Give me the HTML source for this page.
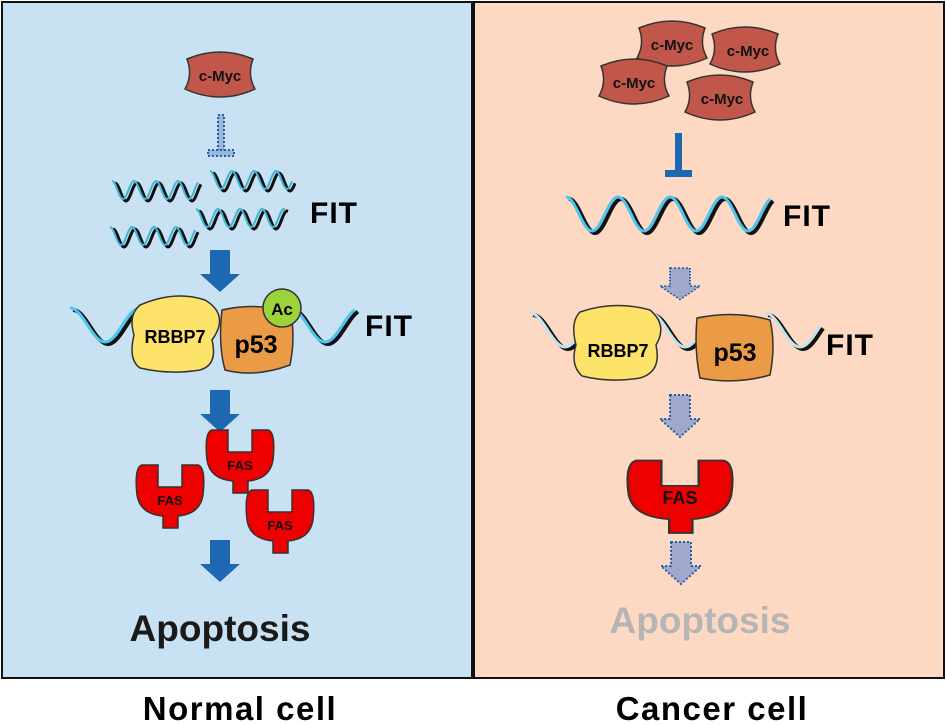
<!DOCTYPE html>
<html><head><meta charset="utf-8"><style>
html,body{margin:0;padding:0;background:#fff;}
svg{display:block;}
text{font-family:"Liberation Sans",sans-serif;font-weight:bold;}
</style></head><body>
<svg id="s" width="946" height="725" viewBox="0 0 946 725" xmlns="http://www.w3.org/2000/svg">
<defs>
<path id="myc" d="M-33,-16 Q0,-30 33,-16 Q27,0 35,14 Q0,30 -35,14 Q-27,0 -33,-16Z"/>
<path id="fas" d="M-28,-30 L-12,-30 L-12,-8 L12,-8 L12,-30 L28,-30 Q36,-28 33,0 Q30,19 8,21 L8,33 L-7,33 L-7,21 Q-30,19 -33,0 Q-36,-28 -28,-30Z"/>
<path id="arr" d="M-10,0 L10,0 L10,24 L20,24 L0,42 L-20,24 L-10,24Z"/>
</defs>
<rect x="2" y="2" width="470" height="676" fill="#c9e2f3" stroke="#111" stroke-width="2"/>
<rect x="474" y="2" width="470" height="676" fill="#fdd9c3" stroke="#111" stroke-width="2"/>
<g id="helix"></g>
<g fill="#c0574a" stroke="#333" stroke-width="1.5">
<use href="#myc" x="220" y="75"/>
<use href="#myc" x="672" y="44"/>
<use href="#myc" x="745" y="50"/>
<use href="#myc" x="634" y="82"/>
<use href="#myc" x="720" y="98"/>
</g>
<g font-size="15" text-anchor="middle" fill="#111">
<text x="220" y="81">c-Myc</text>
<text x="672" y="50">c-Myc</text>
<text x="748" y="56">c-Myc</text>
<text x="634" y="88">c-Myc</text>
<text x="722" y="104">c-Myc</text>
</g>
<g stroke="#1f5fa8" stroke-width="2" stroke-dasharray="2,2" fill="#9ab8dc">
<rect x="218" y="115" width="6" height="36"/><rect x="208" y="150" width="26" height="6"/>
</g>
<g fill="#1e67b3"><rect x="675" y="133" width="7" height="38"/><rect x="665" y="170" width="27" height="7"/></g>
<g fill="#1e67b3"><use href="#arr" x="220" y="250"/><use href="#arr" x="220" y="390"/><use href="#arr" x="220" y="540"/></g>
<g fill="#a0a8cc" stroke="#1f5fa8" stroke-width="2" stroke-dasharray="2,2">
<use href="#arr" transform="translate(680,268) scale(1,0.75)"/>
<use href="#arr" x="680" y="395"/><use href="#arr" x="681" y="542"/></g>
<g font-size="30" fill="#000" letter-spacing="1"><text x="310" y="223">FIT</text><text x="365" y="336">FIT</text><text x="783" y="226">FIT</text><text x="826" y="355">FIT</text></g>
<g stroke="#333" stroke-width="1.5">
<path d="M140,305 Q175,290 205,300 Q230,315 212,340 Q218,365 200,370 Q170,375 140,368 Q128,360 134,335 Q128,315 140,305Z" fill="#fde36a"/>
<path d="M222,310 Q255,302 290,312 Q296,335 290,365 Q255,378 225,370 Q218,345 222,310Z" fill="#eb9a45"/>
<circle cx="282" cy="308" r="19" fill="#9cd33a"/>
<path d="M580,312 Q615,300 650,310 Q668,325 656,345 Q662,372 640,378 Q610,383 582,376 Q570,365 576,345 Q570,322 580,312Z" fill="#fde36a"/>
<path d="M697,318 Q735,310 770,320 Q776,345 770,375 Q735,385 700,378 Q694,350 697,318Z" fill="#eb9a45"/>
</g>
<g font-size="18" fill="#000" text-anchor="middle">
<text x="175" y="343">RBBP7</text><text x="618" y="357">RBBP7</text>
<text x="282" y="315" font-size="17">Ac</text>
</g>
<g font-size="25" fill="#000" text-anchor="middle"><text x="256" y="353">p53</text><text x="735" y="361">p53</text></g>
<g fill="#ee0000" stroke="#333" stroke-width="1.5">
<use href="#fas" x="170" y="495"/><use href="#fas" x="240" y="460"/><use href="#fas" x="280" y="520"/>
<use href="#fas" transform="translate(680,495) scale(1.55,1.15)"/>
</g>
<g font-size="13" fill="#111" text-anchor="middle">
<text x="170" y="505">FAS</text><text x="240" y="470">FAS</text><text x="280" y="530">FAS</text>
<text x="680" y="504" font-size="18">FAS</text></g>
<text x="220" y="641" font-size="37" text-anchor="middle" fill="#1a1a1a">Apoptosis</text>
<text x="700" y="633" font-size="37" text-anchor="middle" fill="#b5b5b5">Apoptosis</text>
<text x="240" y="720" font-size="33" text-anchor="middle" fill="#000" letter-spacing="1.5">Normal cell</text>
<text x="712" y="720" font-size="33" text-anchor="middle" fill="#000" letter-spacing="1.5">Cancer cell</text>
</svg>
<script>
var g=document.getElementById('helix'),ns='http://www.w3.org/2000/svg';
function helix(x0,x1,y,amp,per,w,col){
 var d='',d2='';for(var x=x0;x<=x1;x+=1){var t=(x-x0)/per*2*Math.PI;
 d+=(x==x0?'M':'L')+x+','+(y-amp*Math.cos(t));d2+=(x==x0?'M':'L')+(x+3)+','+(y+2-amp*Math.cos(t));}
 [[d2,'#111',w+1],[d,col,w]].forEach(function(a){var p=document.createElementNS(ns,'path');p.setAttribute('d',a[0]);p.setAttribute('stroke',a[1]);p.setAttribute('stroke-width',a[2]);p.setAttribute('fill','none');g.appendChild(p);});
}
helix(112,198,190,9,22,2,'#3fb6d8');helix(210,292,180,9,22,2,'#3fb6d8');
helix(110,195,236,9,22,2,'#3fb6d8');helix(196,285,218,9,22,2,'#3fb6d8');
helix(566,770,214,17,52,3,'#4cc6ee');
helix(70,140,325,17,70,3,'#4cc6ee');helix(290,355,325,17,70,3,'#4cc6ee');
helix(530,590,330,17,70,3,'#bfe4ee');helix(650,700,330,17,70,3,'#bfe4ee');helix(765,820,330,17,70,3,'#bfe4ee');
</script>
</body></html>
